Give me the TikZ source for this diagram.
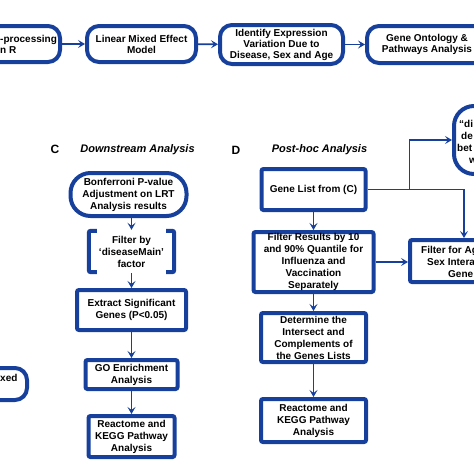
\documentclass[tikz,border=0pt]{standalone}
\usepackage{fontspec}
\setmainfont{Liberation Sans}
\usetikzlibrary{arrows.meta}

\definecolor{flowblue}{RGB}{22,64,155}
\tikzset{
  box/.style={draw=flowblue, line width=4pt, rounded corners=2pt, align=center, inner sep=0pt, font=\fontsize{10}{12}\selectfont\bfseries},
  roundbox/.style={box, rounded corners=12pt, font=\fontsize{10}{11}\selectfont\bfseries},
  pillbox/.style={box, rounded corners=20pt},
  plain/.style={inner sep=0pt, align=left, font=\fontsize{10}{12}\selectfont\bfseries},
  flow/.style={draw=flowblue, line width=1.6pt, -{Stealth[length=7pt,width=8pt,inset=3pt]}},
  panel/.style={font=\fontsize{12}{14}\selectfont\bfseries},
  heading/.style={font=\fontsize{11}{13}\selectfont\bfseries\itshape},
}

\begin{document}
\begin{tikzpicture}[x=1pt,y=-1pt]
\useasboundingbox (0,0) rectangle (474,474);
\clip (0,0) rectangle (474,474);

% top row
\node[roundbox, minimum width=120, minimum height=36] (pre) at (0,44) {};
\node[plain, anchor=west, font=\fontsize{10}{11}\selectfont\bfseries] (pretxt) at (0,44.5) {-processing\\n R};
\node[roundbox, minimum width=109, minimum height=36] (lmm) at (141.5,44) {Linear Mixed Effect\\Model};
\node[roundbox, minimum width=123, minimum height=39] (ident) at (281.5,44.5) {Identify Expression\\Variation Due to\\Disease, Sex and Age};
\node[roundbox, minimum width=120, minimum height=37] (geneont) at (427,44.5) {Gene Ontology \&\\Pathways Analysis};
\draw[flow] (pre) -- (lmm);
\draw[flow] (lmm) -- (ident);
\draw[flow] (ident) -- (geneont);

% bottom left, cut off
\node[roundbox, minimum width=90, minimum height=32, anchor=east] (mixed) at (29,384) {};
\node[plain, anchor=west] (mixedtxt) at (0,378) {xed};

% C: downstream
\node[panel] (labC) at (55,149) {C};
\node[heading] (headC) at (137.5,149.5) {Downstream Analysis};
\node[pillbox, minimum width=116, minimum height=43] (bonf) at (128.5,194.5) {Bonferroni P-value\\Adjustment on LRT\\Analysis results};
\node[align=center, inner sep=0pt, minimum width=85, minimum height=41, font=\fontsize{10}{12}\selectfont\bfseries] (filtC) at (131.5,251.5) {Filter by\\‘diseaseMain’\\factor};
\draw[flowblue, line width=4pt, rounded corners=2pt] ([xshift=8pt]filtC.north west) -- (filtC.north west) -- (filtC.south west) -- ([xshift=8pt]filtC.south west);
\draw[flowblue, line width=4pt, rounded corners=2pt] ([xshift=-8pt]filtC.north east) -- (filtC.north east) -- (filtC.south east) -- ([xshift=-8pt]filtC.south east);
\node[box, minimum width=109, minimum height=40] (signif) at (131.5,310) {Extract Significant\\Genes (P<0.05)};
\node[box, minimum width=92, minimum height=29] (goenr) at (131.5,374.5) {GO Enrichment\\Analysis};
\node[box, minimum width=86, minimum height=41] (reactC) at (131.5,436.5) {Reactome and\\KEGG Pathway\\Analysis};
\draw[flow] (bonf.south -| filtC.north) -- ([yshift=1pt]filtC.north);
\draw[flow] ([yshift=-1pt]filtC.south) -- (signif);
\draw[flow] (signif) -- (goenr);
\draw[flow] (goenr) -- (reactC);

% D: post-hoc
\node[panel] (labD) at (236,150) {D};
\node[heading] (headD) at (319.5,150) {Post-hoc Analysis};
\node[box, minimum width=104, minimum height=41] (genelist) at (313.5,189.5) {Gene List from (C)};
\node[box, minimum width=120, minimum height=60] (quant) at (313.5,262) {Filter Results by 10\\and 90\% Quantile for\\Influenza and\\Vaccination\\Separately};
\node[box, minimum width=105, minimum height=49] (inters) at (313.5,337.5) {Determine the\\Intersect and\\Complements of\\the Genes Lists};
\node[box, minimum width=105, minimum height=43] (reactD) at (313.5,420.5) {Reactome and\\KEGG Pathway\\Analysis};
\node[box, minimum width=108, minimum height=42] (agesex) at (464,261) {};
\node[plain, anchor=west] (agesextxt) at (421,261.5) {Filter for Ag\\\hspace*{6pt}Sex Intera\\\hspace*{27pt}Gene};
\node[pillbox, minimum width=80, minimum height=68, anchor=west] (diff) at (452,140) {};
\node[plain, anchor=west] (difftxt) at (457,142) {\hspace*{2pt}“di\\\hspace*{4pt}de\\bet\\\hspace*{12pt}w};
\draw[flow] (genelist) -- (quant);
\draw[flow] (quant) -- (inters);
\draw[flow] (inters) -- (reactD);
\draw[flow] (genelist.east) -| (agesex.north);
\path (genelist.east) ++(42,0) coordinate (split);
\draw[flow] (split) |- (diff.west);
\draw[flow] (quant.east) -- (quant.east -| agesex.west);
\end{tikzpicture}
\end{document}
